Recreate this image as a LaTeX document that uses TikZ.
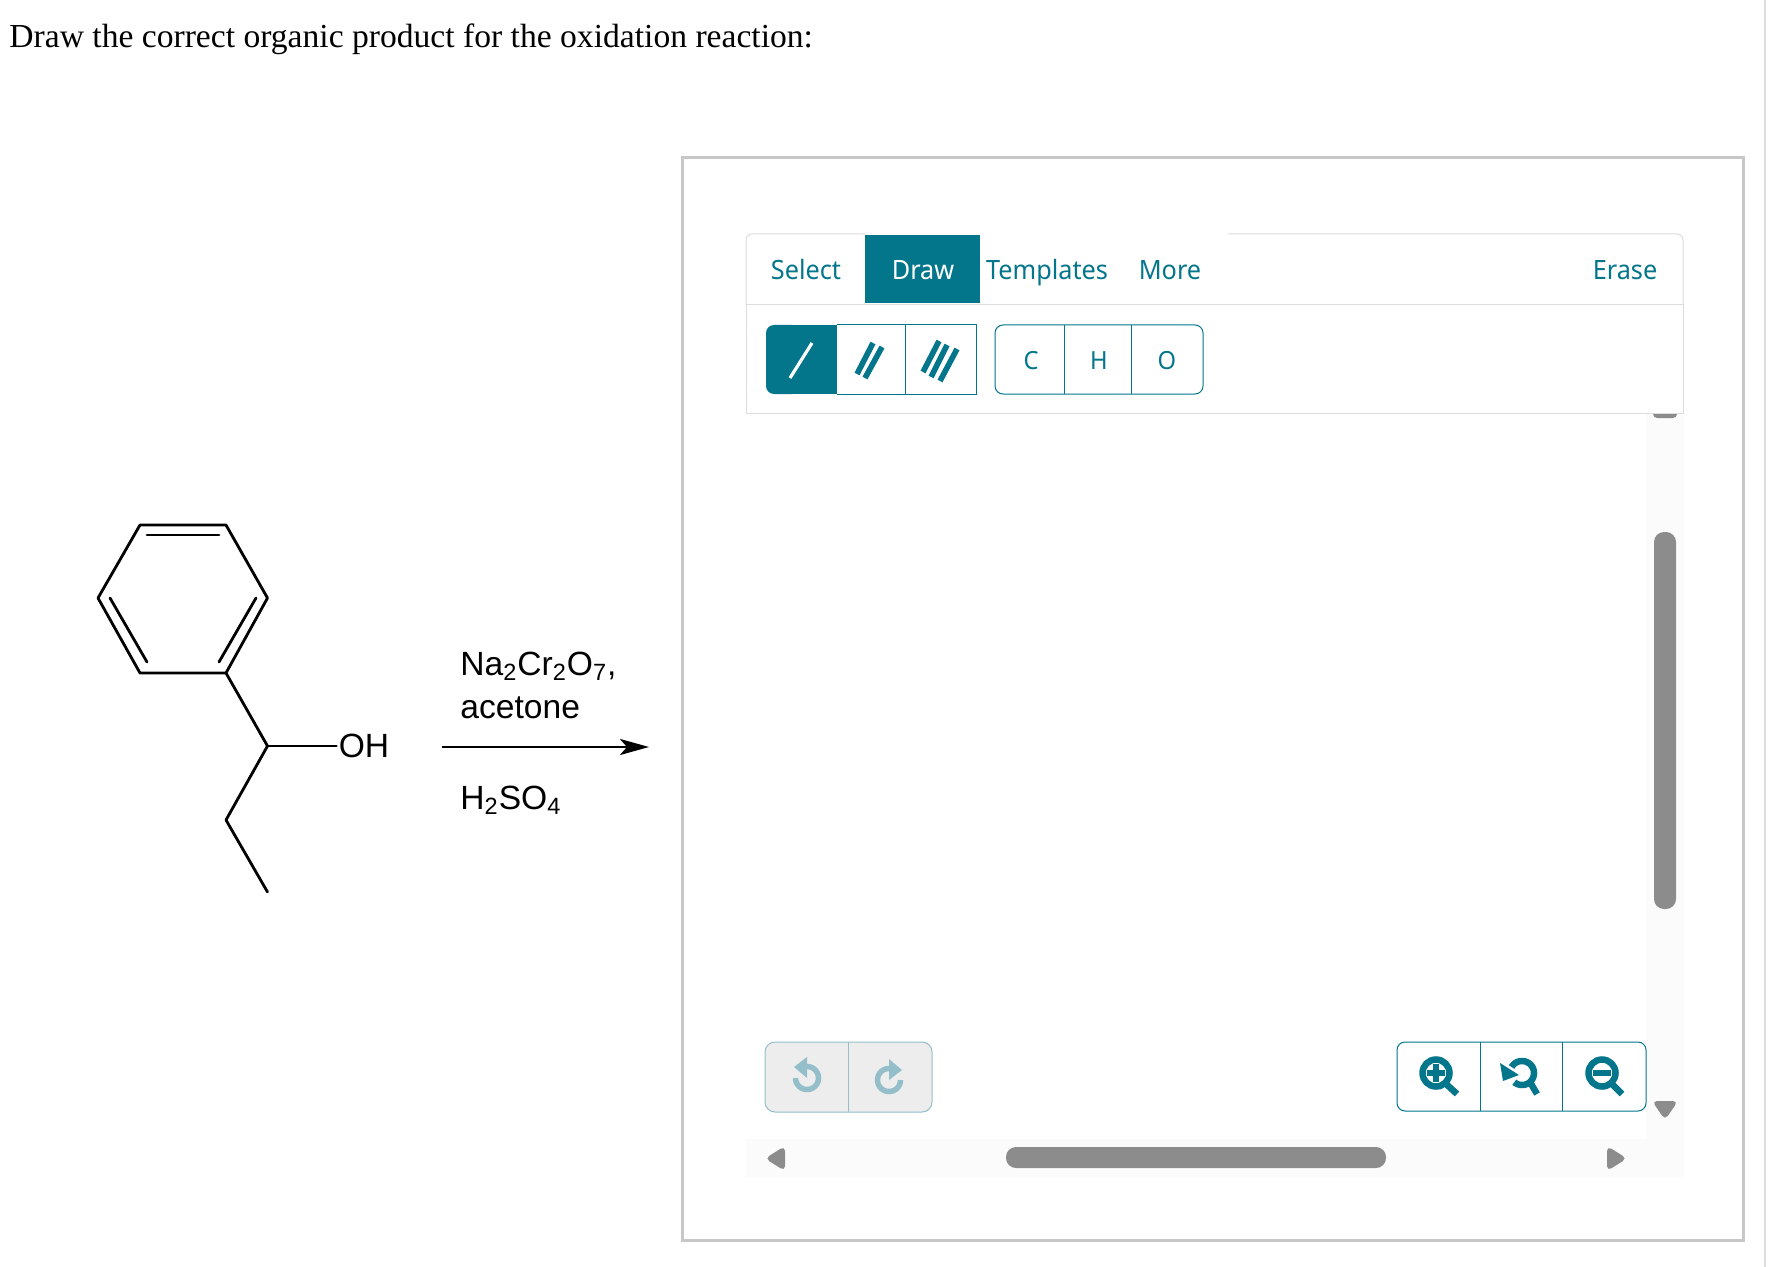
\documentclass[tikz,border=0pt]{standalone}
\usepackage{fontspec}
\setmainfont{Liberation Serif}
\newfontfamily\chemfont{Liberation Sans}
\newfontfamily\uifont[FakeStretch=0.95]{Noto Sans}
\usetikzlibrary{arrows.meta}
\definecolor{teal}{HTML}{03768C}
\definecolor{pale teal}{HTML}{94BFCA}
\definecolor{pale line}{HTML}{DDDDDD}
\definecolor{track}{HTML}{FBFBFB}
\definecolor{thumb}{HTML}{8C8C8C}
\begin{document}
\begin{tikzpicture}[x=0.5pt,y=-0.5pt]

            \useasboundingbox (0,0) rectangle (1770,1267);
            \fill[white] (0,0) rectangle (1770,1267);

            % Define the styles
            \tikzset{bond/.style={line width=1.4pt, black, line cap=round, line join=round},
            chem text/.style={font=\chemfont\fontsize{16.8}{19}\selectfont, anchor=base west, inner sep=0pt},
            tab text/.style={font=\uifont\fontsize{13.3}{15}\selectfont, color=teal, anchor=base},
            atom text/.style={font=\uifont\fontsize{12.5}{14}\selectfont, color=teal, anchor=base},
            group box/.style={draw=teal, line width=0.5pt, rounded corners=4pt},
            icon line/.style={draw=teal, line width=3.25pt},
            bar line/.style={draw=teal, line width=2.8pt},
            thumb bar/.style={fill=thumb, rounded corners=5pt}}

            % Write the question
            \node[anchor=base west, inner sep=0pt, font=\fontsize{16.8}{20}\selectfont] (question) at (9,48)
                {Draw the correct organic product for the oxidation reaction:};

            % Name the atoms of the molecule
            \coordinate (r1) at (140,525);
            \coordinate (r2) at (226,525);
            \coordinate (r3) at (267.5,598);
            \coordinate (r4) at (226,673);
            \coordinate (r5) at (140,673);
            \coordinate (r6) at (98,598);
            \coordinate (carbinol) at (267.5,746);
            \coordinate (ethyl) at (226,820);
            \coordinate (methyl) at (267.5,892);
            \node[font=\chemfont\fontsize{16.8}{19}\selectfont, inner sep=1pt] (oh) at (364,746) {OH};

            % Draw the ring and the chain
            \draw[bond] (r1) -- (r2) -- (r3) -- (r4) -- (r5) -- (r6) -- cycle;
            \draw[bond] (r4) -- (carbinol) -- (ethyl) -- (methyl);
            \draw[bond] (carbinol) -- (oh);

            % Draw the inner lines of the double bonds
            \coordinate (d1) at (147,535); \coordinate (d2) at (219,535);
            \coordinate (d3) at (256,598); \coordinate (d4) at (219,662);
            \coordinate (d5) at (110,598); \coordinate (d6) at (147,662);
            \draw[bond] (d1) -- (d2);
            \draw[bond] (d3) -- (d4);
            \draw[bond] (d5) -- (d6);

            % Draw the reaction arrow and its reagents
            \coordinate (arrow start) at (442,747);
            \coordinate (arrow end) at (649,747);
            \draw[line width=1.4pt, -{Stealth[length=14.5pt,width=8pt,inset=3.5pt]}] (arrow start) -- (arrow end);
            \node[chem text] (oxidant) at (460,675) {Na\textsubscript{2}Cr\textsubscript{2}O\textsubscript{7},};
            \node[chem text] (solvent) at (460,718) {acetone};
            \node[chem text] (acid) at (460,809) {H\textsubscript{2}SO\textsubscript{4}};

            % Draw the outer frame
            \draw[color=black!22, line width=1.5pt] (682,157.5) rectangle (1743.5,1240.5);
            \draw[color=pale line, line width=1pt] (1765,0) -- (1765,1267);

            % Draw the scroll tracks
            \fill[track] (1646,413) rectangle (1684,1139);
            \fill[track] (746,1139) rectangle (1684,1177);

            % Draw the scroll thumbs and arrows
            \fill[thumb bar] (1654,532) rectangle (1676,909);
            \fill[thumb bar] (1006,1147) rectangle (1386,1168);
            \fill[thumb, rounded corners=2pt] (1653,410) rectangle (1677,418);
            \fill[thumb, rounded corners=2.5pt] (785,1146) -- (785,1171) -- (765,1158.5) -- cycle;
            \fill[thumb, rounded corners=2.5pt] (1607,1146) -- (1607,1171) -- (1627,1158.5) -- cycle;
            \fill[thumb, rounded corners=2.5pt] (1652,1101) -- (1678,1101) -- (1665,1120) -- cycle;

            % Draw the tool panel
            \fill[white] (746,305) rectangle (1683,413);
            \draw[pale line, line width=0.5pt] (746,305) rectangle (1683,413);
            \draw[pale line, line width=0.5pt, rounded corners=3pt] (746,305) -- (746,234) -- (865,234);
            \draw[pale line, line width=0.5pt, rounded corners=3pt] (1228,234) -- (1683,234) -- (1683,305);
            \fill[teal] (865,235) rectangle (980,303);

            % Write the tabs
            \node[tab text] (select) at (806,280) {Select};
            \node[tab text, text=white] (draw) at (923,280) {Draw};
            \node[tab text] (templates) at (1047,280) {Templates};
            \node[tab text] (more) at (1170,280) {More};
            \node[tab text] (erase) at (1625,280) {Erase};

            % Draw the bond buttons
            \fill[teal, rounded corners=4pt] (766,325) rectangle (800,394);
            \fill[teal] (785,325) rectangle (837,394);
            \draw[teal, line width=0.5pt] (837,325) -- (976,325) -- (976,394) -- (837,394);
            \draw[teal, line width=0.5pt] (905,325) -- (905,394);
            \draw[white, line width=1.6pt] (790,378) -- (812,343);
            \draw[bar line] (857,374) -- (873,343);
            \draw[bar line] (865,378) -- (882,347);
            \draw[bar line] (923,372) -- (939,341);
            \draw[bar line] (931,377) -- (947,345);
            \draw[bar line] (940,381) -- (957,349);

            % Draw the atom buttons
            \draw[group box] (995,325) rectangle (1203,394);
            \foreach \x in {1064,1131}
            \draw[teal, line width=0.5pt] (\x,325) -- (\x,394);
            \node[atom text] (carbon) at (1031,369) {C};
            \node[atom text] (hydrogen) at (1099,369) {H};
            \node[atom text] (oxygen) at (1167,369) {O};

            % Draw the undo and redo buttons
            \draw[pale teal, fill=black!7, line width=0.5pt, rounded corners=5pt] (765,1042) rectangle (932,1112);
            \draw[pale teal, line width=0.5pt] (848,1042) -- (848,1112);
            \draw[pale teal, line width=2.75pt, domain=-90:180, samples=40] plot ({807+11.5*cos(\x)}, {1078+11.5*sin(\x)});
            \fill[pale teal] (807,1057) -- (794,1067) -- (807,1078) -- cycle;
            \draw[pale teal, line width=2.75pt, domain=-90:-360, samples=40] plot ({889+11.5*cos(\x)}, {1080+11.5*sin(\x)});
            \fill[pale teal] (889,1059) -- (902,1070) -- (889,1080) -- cycle;

            % Draw the zoom buttons
            \draw[group box] (1397,1042) rectangle (1646,1111);
            \foreach \x in {1480,1562}
            \draw[teal, line width=0.5pt] (\x,1042) -- (\x,1111);
            \draw[icon line] (1436,1073) circle (13.5);
            \draw[icon line] (1445,1083) -- (1457,1094);
            \draw[icon line, line width=2.75pt] (1427,1073) -- (1445,1073) (1436,1064) -- (1436,1082);
            \draw[icon line] (1602,1073) circle (13.5);
            \draw[icon line] (1611,1083) -- (1622,1094);
            \draw[icon line, line width=2.75pt] (1593,1073) -- (1611,1073);
            \draw[icon line, domain=-150:130, samples=40] plot ({1522+12*cos(\x)}, {1073+12*sin(\x)});
            \fill[teal] (1500,1063) -- (1503,1081) -- (1519,1075) -- cycle;
            \draw[icon line] (1530,1082) -- (1537,1094);

\end{tikzpicture}
\end{document}
